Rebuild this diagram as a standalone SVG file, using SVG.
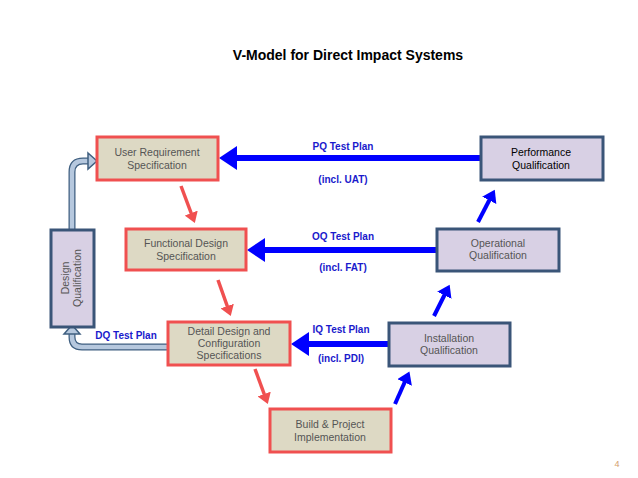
<svg xmlns="http://www.w3.org/2000/svg" width="638" height="478" viewBox="0 0 638 478">
<style>
.red rect{fill:#ddd9c4;stroke:#f05050;stroke-width:3}
.blu rect{fill:#d8d0e4;stroke:#3a5578;stroke-width:3}
text{font-family:"Liberation Sans",Arial,sans-serif;font-size:10.5px;text-anchor:middle}
.red text,.blu text{fill:#555}
.lbl{fill:#1a1acc;font-weight:bold;font-size:10px}
.bl{stroke:#0000ff;stroke-width:6;fill:none}
.bs{stroke:#0000ff;stroke-width:4;fill:none}
.rs{stroke:#f05050;stroke-width:3.5;fill:none}
.dq{stroke:#3f5f80;stroke-width:7;fill:none}
.dqi{stroke:#b6c8de;stroke-width:4.5;fill:none}
</style>
<defs>
<marker id="ab" markerWidth="4" markerHeight="4" refX="1.5" refY="2" orient="auto" markerUnits="strokeWidth"><path d="M0,0 L3,2 L0,4Z" fill="#0000ff"/></marker>
<marker id="ar" markerWidth="4" markerHeight="4" refX="1.5" refY="2" orient="auto" markerUnits="strokeWidth"><path d="M0,0 L3,2 L0,4Z" fill="#f05050"/></marker>
</defs>
<rect width="638" height="478" fill="#fff"/>
<text x="348" y="60" style="font-size:14px;font-weight:bold;fill:#000">V-Model for Direct Impact Systems</text>
<g id="connectors">
<path class="bl" d="M481,158 H228" marker-end="url(#ab)"/>
<path class="bl" d="M437,250 H256" marker-end="url(#ab)"/>
<path class="bl" d="M389,344 H300" marker-end="url(#ab)"/>
<path class="rs" d="M181,186 L193,218" marker-end="url(#ar)"/>
<path class="rs" d="M218,280 L229,311" marker-end="url(#ar)"/>
<path class="rs" d="M255,369 L266,399" marker-end="url(#ar)"/>
<path class="bs" d="M395,404 L407,377" marker-end="url(#ab)"/>
<path class="bs" d="M434,316 L447,290" marker-end="url(#ab)"/>
<path class="bs" d="M478,222 L492,195" marker-end="url(#ab)"/>
<path class="dq" d="M168,347 H82 Q72,347 72,337 V334"/>
<path class="dqi" d="M168,347 H82 Q72,347 72,337 V334"/>
<path d="M64,334 L72,325 L80,334Z" fill="#b6c8de" stroke="#3f5f80" stroke-width="1.5"/>
<path class="dq" d="M72,230 V172 Q72,161 83,161 H88"/>
<path class="dqi" d="M72,230 V172 Q72,161 83,161 H88"/>
<path d="M88,153 L97,161 L88,169Z" fill="#b6c8de" stroke="#3f5f80" stroke-width="1.5"/>
<text class="lbl" x="343" y="150">PQ Test Plan</text>
<text class="lbl" x="343" y="183">(incl. UAT)</text>
<text class="lbl" x="343" y="240">OQ Test Plan</text>
<text class="lbl" x="343" y="271">(incl. FAT)</text>
<text class="lbl" x="341" y="333">IQ Test Plan</text>
<text class="lbl" x="341" y="362">(incl. PDI)</text>
<text class="lbl" x="126" y="339">DQ Test Plan</text>
</g>
<g id="urs" class="red"><rect x="97" y="137" width="121" height="43"/><text x="157" y="156">User Requirement</text><text x="157" y="169">Specification</text></g>
<g id="fds" class="red"><rect x="126" y="229" width="120" height="41"/><text x="186" y="247">Functional Design</text><text x="186" y="260">Specification</text></g>
<g id="ddcs" class="red"><rect x="168" y="322" width="122" height="43"/><text x="229" y="335">Detail Design and</text><text x="229" y="347">Configuration</text><text x="229" y="359">Specifications</text></g>
<g id="build" class="red"><rect x="270" y="409" width="121" height="43"/><text x="330" y="428">Build &amp; Project</text><text x="330" y="441">Implementation</text></g>
<g id="iq" class="blu"><rect x="389" y="323" width="121" height="43"/><text x="449" y="342">Installation</text><text x="449" y="354">Qualification</text></g>
<g id="oq" class="blu"><rect x="437" y="229" width="122" height="42"/><text x="498" y="247">Operational</text><text x="498" y="259">Qualification</text></g>
<g id="pq" class="blu"><rect x="481" y="137" width="122" height="43"/><text x="541" y="156" style="fill:#000">Performance</text><text x="541" y="169" style="fill:#000">Qualification</text></g>
<g id="dq" class="blu"><rect x="51" y="230" width="43" height="97"/><text transform="translate(69,278) rotate(-90)">Design</text><text transform="translate(81,278) rotate(-90)">Qualification</text></g>
<text x="617" y="467" style="font-size:9px;fill:#d4a070">4</text>
</svg>
